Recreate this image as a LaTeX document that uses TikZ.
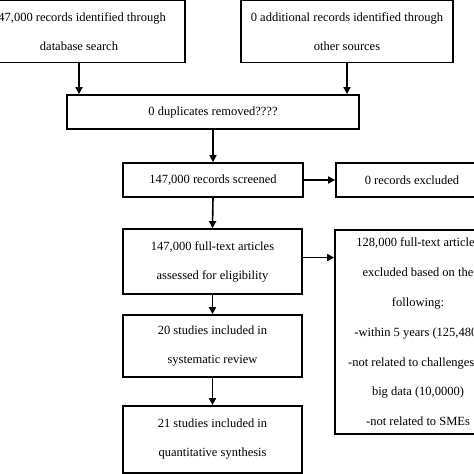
\documentclass[tikz,border=0pt]{standalone}
\usepackage{fontspec}
\setmainfont{Liberation Serif}
\usetikzlibrary{arrows.meta}
\tikzset{
  box/.style={draw, line width=1.7pt, align=center, inner sep=0pt,
    font=\fontsize{12.5}{29}\selectfont},
  arr/.style={line width=1.6pt, -{Triangle[length=7pt,width=7pt]}}
}
\begin{document}
\begin{tikzpicture}[x=1pt,y=-1pt]
\useasboundingbox (0,0) rectangle (474,474);
\clip (0,0) rectangle (474,474);
\fill[white] (0,0) rectangle (474,474);
\node[box, minimum width=212pt, minimum height=62pt] (src1) at (79,31.5)
  {147,000 records identified through\\database search};
\node[box, minimum width=212pt, minimum height=62pt] (src2) at (347,31.5)
  {0 additional records identified through\\other sources};
\node[box, minimum width=292pt, minimum height=34pt] (dup) at (213,112)
  {0 duplicates removed????};
\node[box, minimum width=180pt, minimum height=34pt] (screen) at (213,180)
  {147,000 records screened};
\node[box, minimum width=152pt, minimum height=34pt] (excl) at (412,180)
  {0 records excluded};
\node[box, minimum width=179pt, minimum height=65pt] (full) at (212.5,261.5)
  {147,000 full-text articles\\assessed for eligibility};
\node[box, minimum width=166pt, minimum height=204pt,
  font=\fontsize{12.5}{29.8}\selectfont] (fexcl) at (418,332)
  {128,000 full-text articles\\excluded based on the\\following:\\-within 5 years (125,480)\\-not related to challenges of\\big data (10,0000)\\-not related to SMEs};
\node[box, minimum width=179pt, minimum height=62pt] (inc20) at (212.5,346)
  {20 studies included in\\systematic review};
\node[box, minimum width=179pt, minimum height=67pt] (inc21) at (212.5,439.5)
  {21 studies included in\\quantitative synthesis};
\draw[arr] (src1.south) -- (src1.south |- dup.north);
\draw[arr] (src2.south) -- (src2.south |- dup.north);
\draw[arr] (dup.south -| screen.north) -- (screen.north);
\draw[arr] (screen.east) -- (excl.west);
\draw[arr] (screen.south) -- (full.north);
\draw[arr] ([yshift=4pt]full.east) -- ([yshift=4pt]full.east -| fexcl.west);
\draw[arr] (full.south) -- (inc20.north);
\draw[arr] (inc20.south) -- (inc21.north);
\end{tikzpicture}
\end{document}
